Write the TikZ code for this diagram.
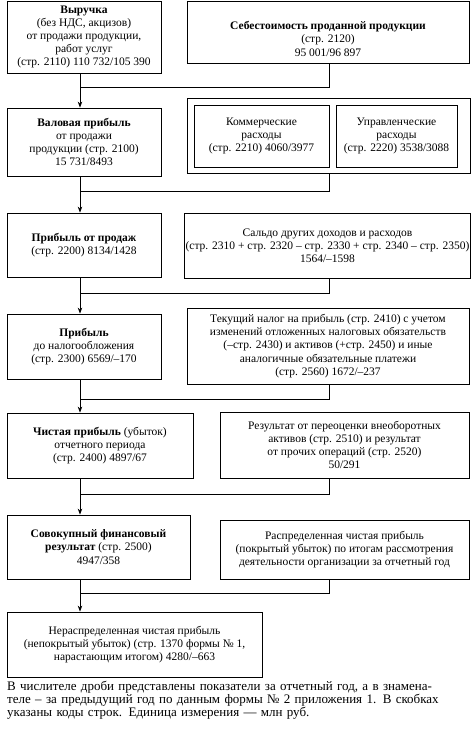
\documentclass[tikz,border=0pt]{standalone}
\usepackage{fontspec}
\setmainfont{Liberation Serif}
\usetikzlibrary{arrows.meta}

\tikzset{
  box/.style={draw, line width=0.8pt, align=center, inner sep=1pt,
    font=\fontsize{11.5}{13.2}\selectfont},
  link/.style={line width=0.8pt},
  arr/.style={link, -{Stealth[length=6pt,width=4.5pt]}}
}

\begin{document}
\begin{tikzpicture}[x=1pt,y=-1pt]
  \useasboundingbox (0,0) rectangle (474,729);

  \begin{scope}[every node/.style={box}]
    \node[minimum width=154, minimum height=72] (vyr)   at (84,37)   {\textbf{Выручка}\\(без НДС, акцизов)\\от продажи продукции,\\работ услуг\\(стр. 2110) 110 732/105 390};
    \node[minimum width=282, minimum height=62] (seb)   at (328,32)  {\rule{0pt}{22pt}\textbf{Себестоимость проданной продукции}\\(стр. 2120)\\95 001/96 897};
    \node[minimum width=154, minimum height=68] (val)   at (84,142)  {\textbf{Валовая прибыль}\\от продажи\\продукции (стр. 2100)\\15 731/8493};
    \node[minimum width=283, minimum height=75] (rasx)  at (328.5,135.5) {};
    \node[minimum width=135, minimum height=62] (kom)   at (261.5,136) {Коммерческие\\расходы\\(стр. 2210) 4060/3977};
    \node[minimum width=121, minimum height=62] (upr)   at (396.5,136) {Управленческие\\расходы\\(стр. 2220) 3538/3088};
    \node[minimum width=154, minimum height=64] (prod)  at (84,245)  {\textbf{Прибыль от продаж}\\(стр. 2200) 8134/1428};
    \node[minimum width=285, minimum height=65] (saldo) at (327.5,245.5) {Сальдо других доходов и расходов\\(стр. 2310 + стр. 2320 – стр. 2330 + стр. 2340 – стр. 2350)\\1564/–1598};
    \node[minimum width=154, minimum height=65] (dnal)  at (84,346.5) {\textbf{Прибыль}\\до налогообложения\\(стр. 2300) 6569/–170};
    \node[minimum width=282, minimum height=76] (nalog) at (328,346) {Текущий налог на прибыль (стр. 2410) с учетом\\изменений отложенных налоговых обязательств\\(–стр. 2430) и активов (+стр. 2450) и иные\\аналогичные обязательные платежи\\(стр. 2560) 1672/–237};
    \node[minimum width=186, minimum height=65] (chist) at (100,445.5) {\textbf{Чистая прибыль} (убыток)\\отчетного периода\\(стр. 2400) 4897/67};
    \node[minimum width=249, minimum height=66] (pereoc) at (344.5,445) {Результат от переоценки внеоборотных\\активов (стр. 2510) и результат\\от прочих операций (стр. 2520)\\50/291};
    \node[minimum width=183, minimum height=64] (sovok) at (98.5,547) {\textbf{Совокупный финансовый}\\\textbf{результат} (стр. 2500)\\4947/358};
    \node[minimum width=249, minimum height=59] (raspr) at (344.5,549.5) {Распределенная чистая прибыль\\(покрытый убыток) по итогам рассмотрения\\деятельности организации за отчетный год};
    \node[minimum width=255, minimum height=65] (neraspr) at (134.5,644.5) {Нераспределенная чистая прибыль\\(непокрытый убыток) (стр. 1370 формы № 1,\\нарастающим итогом) 4280/–663};
  \end{scope}

  % junctions
  \coordinate (rx) at (329,0);
  \coordinate (j1) at (80,87);
  \coordinate (j2) at (80,191);
  \coordinate (j3) at (80,293);
  \coordinate (j4) at (80,399);
  \coordinate (j5) at (80,494);
  \coordinate (j6) at (80,593);

  \draw[arr] (vyr.south -| j1) -- (val.north -| j1);
  \draw[arr] (val.south -| j2) -- (prod.north -| j2);
  \draw[arr] (prod.south -| j3) -- (dnal.north -| j3);
  \draw[arr] (dnal.south -| j4) -- (chist.north -| j4);
  \draw[arr] (chist.south -| j5) -- (sovok.north -| j5);
  \draw[arr] (sovok.south -| j6) -- (neraspr.north -| j6);

  \draw[link] (seb.south -| rx) |- (j1);
  \draw[link] (rasx.south -| rx) |- (j2);
  \draw[link] (saldo.south -| rx) |- (j3);
  \draw[link] (nalog.south -| rx) |- (j4);
  \draw[link] (pereoc.south -| rx) |- (j5);
  \draw[link] (raspr.south -| rx) |- (j6);

  \node[anchor=north west, inner sep=0pt, text width=464pt,
    font=\fontsize{13}{12}\selectfont] (note) at (7,681) {%
    \makebox[\linewidth][s]{В числителе дроби представлены показатели за отчетный год, а в знамена-}\\
    \makebox[\linewidth][s]{теле – за предыдущий год по данным формы № 2 приложения 1. В скобках}\\
    указаны коды строк. Единица измерения — млн руб.};
\end{tikzpicture}
\end{document}
